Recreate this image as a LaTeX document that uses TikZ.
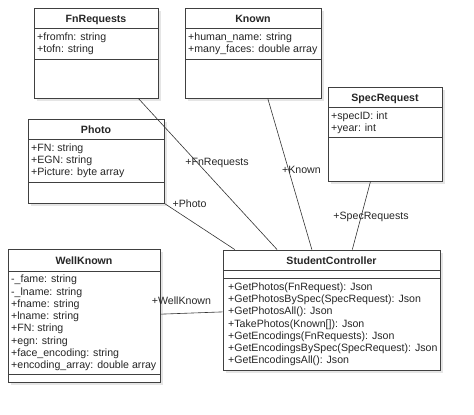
\documentclass[tikz,border=0pt]{standalone}
\usepackage{fontspec}
\setmainfont{Liberation Sans}
\usetikzlibrary{shadows}

\tikzset{
  cls/.style={draw=black!75,line width=0.8pt,fill=white,
    drop shadow={shadow xshift=3pt,shadow yshift=-3pt,fill=black!10,opacity=1}},
  sep/.style={draw=black!75,line width=0.8pt},
  title/.style={anchor=base,inner sep=0pt,font=\fontsize{10.6}{12}\selectfont\bfseries,text=black!85},
  attrs/.style={anchor=north west,inner sep=0pt,align=left,
    font=\fontsize{10.6}{12.25}\selectfont,text=black!85},
  assoc/.style={draw=black!80,line width=0.6pt},
  role/.style={inner sep=0pt,font=\fontsize{10.6}{12}\selectfont,text=black!85}
}

\begin{document}
\begin{tikzpicture}[x=1pt,y=-1pt]
\useasboundingbox (0,0) rectangle (474,415);

% FnRequests
\node[cls,minimum width=124pt,minimum height=90pt] (fnreq) at (96,53) {};
\node[title] at (96,22) {FnRequests};
\draw[sep] (34,28) -- (158,28);
\draw[sep] (34,59) -- (158,59);
\node[attrs] at (37,32.5) {+fromfn: string\\+tofn: string};

% Known
\node[cls,minimum width=136pt,minimum height=90pt] (known) at (253,53) {};
\node[title] at (253,22) {Known};
\draw[sep] (185,28) -- (321,28);
\draw[sep] (185,59) -- (321,59);
\node[attrs] at (188,32.5) {+human\_name: string\\+many\_faces: double array};

% SpecRequest
\node[cls,minimum width=114pt,minimum height=94pt] (specreq) at (385,134) {};
\node[title] at (385,101) {SpecRequest};
\draw[sep] (328,107) -- (442,107);
\draw[sep] (328,137) -- (442,137);
\node[attrs] at (331,111.5) {+specID: int\\+year: int};

% Photo
\node[cls,minimum width=136pt,minimum height=84pt] (photo) at (96,161) {};
\node[title] at (96,133) {Photo};
\draw[sep] (28,139) -- (164,139);
\draw[sep] (28,182) -- (164,182);
\node[attrs] at (31,143.5) {+FN: string\\+EGN: string\\+Picture: byte array};

% WellKnown
\node[cls,minimum width=152pt,minimum height=133pt] (wellknown) at (84,315.5) {};
\node[title] at (84,264) {WellKnown};
\draw[sep] (8,271) -- (160,271);
\draw[sep] (8,374) -- (160,374);
\node[attrs] at (11,275) {-\_fame: string\\-\_lname: string\\+fname: string\\+lname: string\\
  +FN: string\\+egn: string\\+face\_encoding: string\\+encoding\_array: double array};

% StudentController
\node[cls,minimum width=217pt,minimum height=120pt] (ctrl) at (331.5,310) {};
\node[title] at (331.5,264) {StudentController};
\draw[sep] (223,270) -- (440,270);
\draw[sep] (223,278) -- (440,278);
\node[attrs] at (228,282.5) {+GetPhotos(FnRequest): Json\\+GetPhotosBySpec(SpecRequest): Json\\
  +GetPhotosAll(): Json\\+TakePhotos(Known[]): Json\\+GetEncodings(FnRequests): Json\\
  +GetEncodingsBySpec(SpecRequest): Json\\+GetEncodingsAll(): Json};

% associations
\draw[assoc] (fnreq.-47.7) -- node[role,pos=0.43,xshift=19pt] {+FnRequests} (ctrl.132.2);
\draw[assoc] (known.-72.7) -- node[role,pos=0.47,xshift=13pt] {+Known} (ctrl.108);
\draw[assoc] (specreq.-107.7) -- node[role,pos=0.52,xshift=10pt] {+SpecRequests} (ctrl.71.1);
\draw[assoc] (photo.south east) -- node[role,pos=0,anchor=west,xshift=8pt] {+Photo} (ctrl.148.1);
\draw[assoc] (wellknown.1.9) -- node[role,midway,anchor=south,xshift=-10pt,yshift=8pt] {+WellKnown} (ctrl.181.6);
\end{tikzpicture}
\end{document}
